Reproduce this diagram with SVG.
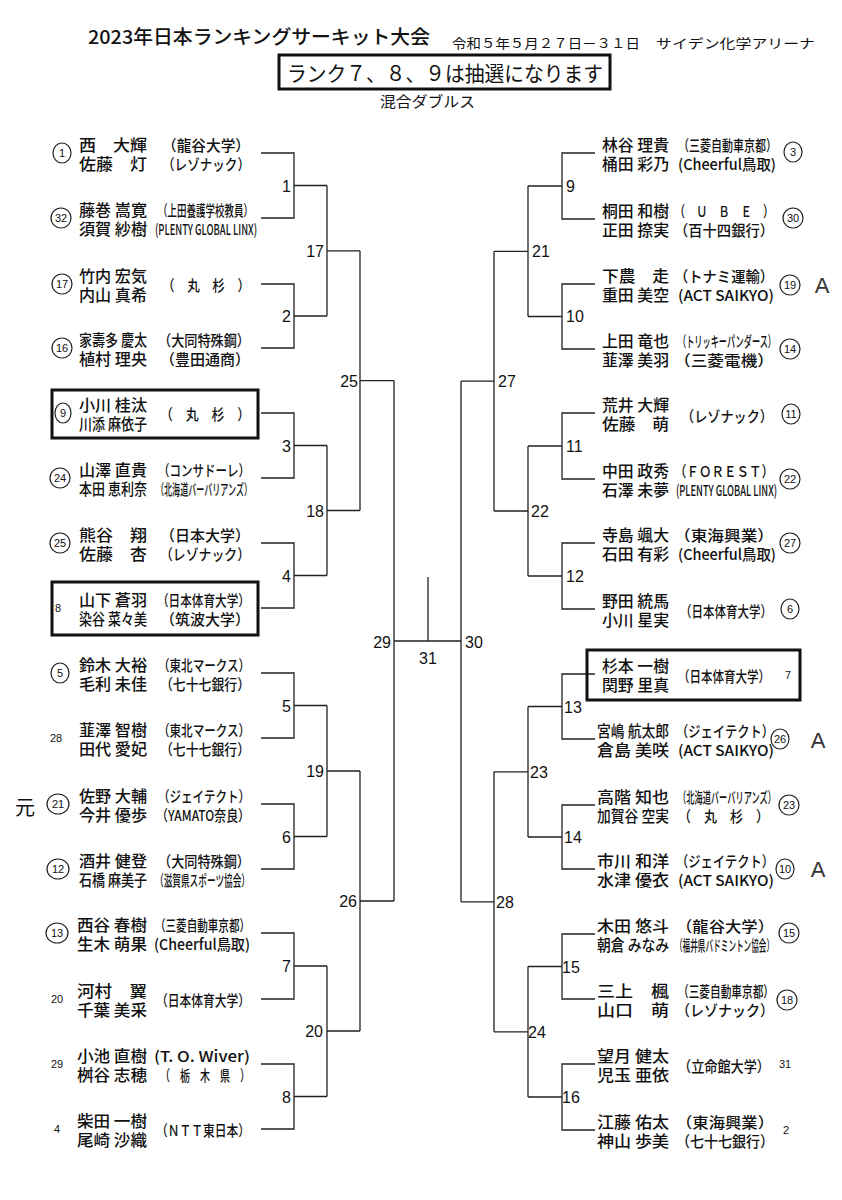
<svg xmlns="http://www.w3.org/2000/svg" width="842" height="1200" viewBox="0 0 842 1200">
<style>
text{font-family:"Noto Sans CJK JP","Noto Sans",sans-serif;fill:#111;dominant-baseline:central}
.nm{font-size:16px;font-weight:500}
.org{font-size:15px;font-weight:500}
.lbl{font-family:"Liberation Sans",Arial,sans-serif;font-size:16px}
.sd{font-family:"Liberation Sans",Arial,sans-serif;font-size:11px;text-anchor:middle}
.sc{fill:none;stroke:#222;stroke-width:1.2}
.ln{fill:none;stroke:#222;stroke-width:1.3}
.box{fill:none;stroke:#111;stroke-width:3}
.hw{font-family:"Liberation Sans",Arial,sans-serif;font-size:22px;fill:#333;text-anchor:middle}
</style>
<rect width="842" height="1200" fill="#fff"/>
<g id="header">
<text x="88" y="35" font-size="19" font-weight="500" textLength="342" lengthAdjust="spacingAndGlyphs">2023年日本ランキングサーキット大会</text>
<text x="452" y="42" font-size="13" textLength="188" lengthAdjust="spacingAndGlyphs">令和５年５月２７日－３１日</text>
<text x="656" y="42" font-size="13" textLength="159" lengthAdjust="spacingAndGlyphs">サイデン化学アリーナ</text>
<rect class="box" x="279" y="55" width="331" height="34"/>
<text x="287" y="72" font-size="21" textLength="316" lengthAdjust="spacingAndGlyphs">ランク７、８、９は抽選になります</text>
<text x="380" y="100" font-size="15" textLength="95" lengthAdjust="spacingAndGlyphs">混合ダブルス</text>
</g>
<g id="connectors">
<path class="ln" d="M261 153H294V218H261M261 284H294V348H261M261 413H294V478H261M261 543H294V608H261M261 673H294V738H261M261 804H294V869H261M261 933H294V999H261M261 1064H294V1129H261"/>
<path class="ln" d="M294 185.5H327M294 316H327M294 445.5H327M294 575.5H327M294 705.5H327M294 836.5H327M294 966H327M294 1096.5H327"/>
<path class="ln" d="M327 185.5V316M327 445.5V575.5M327 705.5V836.5M327 966V1096.5M327 250.8H360M327 510.5H360M327 771H360M327 1031H360"/>
<path class="ln" d="M360 250.8V510.5M360 771V1031M360 380.6H394M360 901H394M394 380.6V901M394 641H461M428 577V641"/>
<path class="ln" d="M595 153H562V219H595M595 284H562V349H595M595 413H562V479H595M595 543H562V609H595M595 674H562V739H595M595 805H562V869H595M595 934H562V999H595M595 1064H562V1130H595"/>
<path class="ln" d="M562 186H528M562 316.5H528M562 446H528M562 576H528M562 706.5H528M562 837H528M562 966.5H528M562 1097H528"/>
<path class="ln" d="M528 186V316.5M528 446V576M528 706.5V837M528 966.5V1097M528 251.3H494M528 511H494M528 771.8H494M528 1031.8H494"/>
<path class="ln" d="M494 251.3V511M494 771.8V1031.8M494 381.1H461M494 901.8H461M461 381.1V901.8"/>
</g>
<g id="match-labels">
<text class="lbl" x="291" y="186" text-anchor="end">1</text>
<text class="lbl" x="291" y="316" text-anchor="end">2</text>
<text class="lbl" x="291" y="446" text-anchor="end">3</text>
<text class="lbl" x="291" y="576" text-anchor="end">4</text>
<text class="lbl" x="291" y="706" text-anchor="end">5</text>
<text class="lbl" x="291" y="837" text-anchor="end">6</text>
<text class="lbl" x="291" y="966" text-anchor="end">7</text>
<text class="lbl" x="291" y="1097" text-anchor="end">8</text>
<text class="lbl" x="324" y="251" text-anchor="end">17</text>
<text class="lbl" x="324" y="511" text-anchor="end">18</text>
<text class="lbl" x="324" y="771" text-anchor="end">19</text>
<text class="lbl" x="323" y="1031" text-anchor="end">20</text>
<text class="lbl" x="358" y="381" text-anchor="end">25</text>
<text class="lbl" x="357" y="901" text-anchor="end">26</text>
<text class="lbl" x="391" y="642" text-anchor="end">29</text>
<text class="lbl" x="428" y="658" text-anchor="middle">31</text>
<text class="lbl" x="465" y="642">30</text>
<text class="lbl" x="566" y="186">9</text>
<text class="lbl" x="566" y="316">10</text>
<text class="lbl" x="566" y="446">11</text>
<text class="lbl" x="566" y="576">12</text>
<text class="lbl" x="564" y="707">13</text>
<text class="lbl" x="564" y="837">14</text>
<text class="lbl" x="562" y="967">15</text>
<text class="lbl" x="562" y="1097">16</text>
<text class="lbl" x="532" y="251">21</text>
<text class="lbl" x="531" y="511">22</text>
<text class="lbl" x="530" y="772">23</text>
<text class="lbl" x="528" y="1032">24</text>
<text class="lbl" x="498" y="381">27</text>
<text class="lbl" x="496" y="902">28</text>
</g>
<g id="L01"><ellipse class="sc" cx="62" cy="153" rx="9" ry="10"/><text class="sd" x="62" y="153">1</text>
<text class="nm" x="79" y="144" textLength="68" lengthAdjust="spacingAndGlyphs">西　大輝</text><text class="nm" x="79" y="163" textLength="68" lengthAdjust="spacingAndGlyphs">佐藤　灯</text>
<text class="org" x="162" y="144" textLength="88" lengthAdjust="spacingAndGlyphs">（龍谷大学）</text><text class="org" x="162" y="163" textLength="88" lengthAdjust="spacingAndGlyphs">（レゾナック）</text></g>
<g id="L02"><ellipse class="sc" cx="61" cy="218" rx="10" ry="10"/><text class="sd" x="61" y="218">32</text>
<text class="nm" x="79" y="209" textLength="68" lengthAdjust="spacingAndGlyphs">藤巻 嵩寛</text><text class="nm" x="79" y="228" textLength="68" lengthAdjust="spacingAndGlyphs">須賀 紗樹</text>
<text class="org" x="158" y="209" textLength="95" lengthAdjust="spacingAndGlyphs">（上田養護学校教員）</text><text class="org" x="155" y="228" textLength="102" lengthAdjust="spacingAndGlyphs">(PLENTY GLOBAL LINX)</text></g>
<g id="L03"><ellipse class="sc" cx="62" cy="284" rx="10" ry="10"/><text class="sd" x="62" y="284">17</text>
<text class="nm" x="79" y="275" textLength="68" lengthAdjust="spacingAndGlyphs">竹内 宏気</text><text class="nm" x="79" y="294" textLength="68" lengthAdjust="spacingAndGlyphs">内山 真希</text>
<text class="org" x="162" y="284" textLength="88" lengthAdjust="spacingAndGlyphs">（　丸　杉　）</text></g>
<g id="L04"><ellipse class="sc" cx="62" cy="348" rx="10" ry="10"/><text class="sd" x="62" y="348">16</text>
<text class="nm" x="79" y="339" textLength="68" lengthAdjust="spacingAndGlyphs">家壽多 慶太</text><text class="nm" x="79" y="358" textLength="68" lengthAdjust="spacingAndGlyphs">植村 理央</text>
<text class="org" x="158" y="339" textLength="92" lengthAdjust="spacingAndGlyphs">（大同特殊鋼）</text><text class="org" x="160" y="358" textLength="90" lengthAdjust="spacingAndGlyphs">（豊田通商）</text></g>
<g id="L05"><rect class="box" x="52" y="390" width="206" height="48"/><ellipse class="sc" cx="63" cy="413" rx="8" ry="10"/><text class="sd" x="63" y="413">9</text>
<text class="nm" x="79" y="404" textLength="68" lengthAdjust="spacingAndGlyphs">小川 桂汰</text><text class="nm" x="79" y="423" textLength="68" lengthAdjust="spacingAndGlyphs">川添 麻依子</text>
<text class="org" x="160" y="413" textLength="90" lengthAdjust="spacingAndGlyphs">（　丸　杉　）</text></g>
<g id="L06"><ellipse class="sc" cx="60" cy="478" rx="10" ry="10"/><text class="sd" x="60" y="478">24</text>
<text class="nm" x="79" y="469" textLength="68" lengthAdjust="spacingAndGlyphs">山澤 直貴</text><text class="nm" x="79" y="488" textLength="68" lengthAdjust="spacingAndGlyphs">本田 恵利奈</text>
<text class="org" x="158" y="469" textLength="92" lengthAdjust="spacingAndGlyphs">（コンサドーレ）</text><text class="org" x="156" y="488" textLength="96" lengthAdjust="spacingAndGlyphs">（北海道バーバリアンズ）</text></g>
<g id="L07"><ellipse class="sc" cx="60" cy="543" rx="10" ry="10"/><text class="sd" x="60" y="543">25</text>
<text class="nm" x="79" y="534" textLength="68" lengthAdjust="spacingAndGlyphs">熊谷　翔</text><text class="nm" x="79" y="553" textLength="68" lengthAdjust="spacingAndGlyphs">佐藤　杏</text>
<text class="org" x="160" y="534" textLength="90" lengthAdjust="spacingAndGlyphs">（日本大学）</text><text class="org" x="160" y="553" textLength="90" lengthAdjust="spacingAndGlyphs">（レゾナック）</text></g>
<g id="L08"><rect class="box" x="52" y="582" width="206" height="53"/><text class="sd" x="58" y="608">8</text>
<text class="nm" x="79" y="599" textLength="68" lengthAdjust="spacingAndGlyphs">山下 蒼羽</text><text class="nm" x="79" y="618" textLength="68" lengthAdjust="spacingAndGlyphs">染谷 菜々美</text>
<text class="org" x="157" y="599" textLength="93" lengthAdjust="spacingAndGlyphs">（日本体育大学）</text><text class="org" x="160" y="618" textLength="90" lengthAdjust="spacingAndGlyphs">（筑波大学）</text></g>
<g id="L09"><ellipse class="sc" cx="60" cy="673" rx="9" ry="10"/><text class="sd" x="60" y="673">5</text>
<text class="nm" x="79" y="664" textLength="68" lengthAdjust="spacingAndGlyphs">鈴木 大裕</text><text class="nm" x="79" y="683" textLength="68" lengthAdjust="spacingAndGlyphs">毛利 未佳</text>
<text class="org" x="158" y="664" textLength="92" lengthAdjust="spacingAndGlyphs">（東北マークス）</text><text class="org" x="160" y="683" textLength="90" lengthAdjust="spacingAndGlyphs">（七十七銀行）</text></g>
<g id="L10"><text class="sd" x="56" y="738">28</text>
<text class="nm" x="79" y="729" textLength="68" lengthAdjust="spacingAndGlyphs">韮澤 智樹</text><text class="nm" x="79" y="748" textLength="68" lengthAdjust="spacingAndGlyphs">田代 愛妃</text>
<text class="org" x="158" y="729" textLength="92" lengthAdjust="spacingAndGlyphs">（東北マークス）</text><text class="org" x="160" y="748" textLength="90" lengthAdjust="spacingAndGlyphs">（七十七銀行）</text></g>
<g id="L11"><text x="25" y="806" font-size="20" fill="#333" text-anchor="middle">元</text><ellipse class="sc" cx="58" cy="804" rx="11" ry="10"/><text class="sd" x="58" y="804">21</text>
<text class="nm" x="79" y="795" textLength="68" lengthAdjust="spacingAndGlyphs">佐野 大輔</text><text class="nm" x="79" y="814" textLength="68" lengthAdjust="spacingAndGlyphs">今井 優歩</text>
<text class="org" x="158" y="795" textLength="92" lengthAdjust="spacingAndGlyphs">（ジェイテクト）</text><text class="org" x="156" y="814" textLength="94" lengthAdjust="spacingAndGlyphs">（YAMATO奈良）</text></g>
<g id="L12"><ellipse class="sc" cx="58" cy="869" rx="11" ry="10"/><text class="sd" x="58" y="869">12</text>
<text class="nm" x="79" y="860" textLength="68" lengthAdjust="spacingAndGlyphs">酒井 健登</text><text class="nm" x="79" y="879" textLength="68" lengthAdjust="spacingAndGlyphs">石橋 麻美子</text>
<text class="org" x="158" y="860" textLength="92" lengthAdjust="spacingAndGlyphs">（大同特殊鋼）</text><text class="org" x="155" y="879" textLength="95" lengthAdjust="spacingAndGlyphs">（滋賀県スポーツ協会）</text></g>
<g id="L13"><ellipse class="sc" cx="57" cy="933" rx="11" ry="10"/><text class="sd" x="57" y="933">13</text>
<text class="nm" x="77" y="924" textLength="70" lengthAdjust="spacingAndGlyphs">西谷 春樹</text><text class="nm" x="77" y="943" textLength="70" lengthAdjust="spacingAndGlyphs">生木 萌果</text>
<text class="org" x="155" y="924" textLength="95" lengthAdjust="spacingAndGlyphs">（三菱自動車京都）</text><text class="org" x="154" y="943" textLength="96" lengthAdjust="spacingAndGlyphs">(Cheerful鳥取)</text></g>
<g id="L14"><text class="sd" x="57" y="999">20</text>
<text class="nm" x="77" y="990" textLength="70" lengthAdjust="spacingAndGlyphs">河村　翼</text><text class="nm" x="77" y="1009" textLength="70" lengthAdjust="spacingAndGlyphs">千葉 美采</text>
<text class="org" x="156" y="999" textLength="94" lengthAdjust="spacingAndGlyphs">（日本体育大学）</text></g>
<g id="L15"><text class="sd" x="57" y="1064">29</text>
<text class="nm" x="77" y="1055" textLength="70" lengthAdjust="spacingAndGlyphs">小池 直樹</text><text class="nm" x="77" y="1074" textLength="70" lengthAdjust="spacingAndGlyphs">桝谷 志穂</text>
<text class="org" x="154" y="1055" textLength="96" lengthAdjust="spacingAndGlyphs">(T. O. Wiver)</text><text class="org" x="160" y="1074" textLength="90" lengthAdjust="spacingAndGlyphs">（　栃　木　県　）</text></g>
<g id="L16"><text class="sd" x="57" y="1129">4</text>
<text class="nm" x="77" y="1120" textLength="70" lengthAdjust="spacingAndGlyphs">柴田 一樹</text><text class="nm" x="77" y="1139" textLength="70" lengthAdjust="spacingAndGlyphs">尾崎 沙織</text>
<text class="org" x="156" y="1129" textLength="94" lengthAdjust="spacingAndGlyphs">（ＮＴＴ東日本）</text></g>
<g id="R01"><ellipse class="sc" cx="793" cy="152" rx="9" ry="10"/><text class="sd" x="793" y="152">3</text>
<text class="nm" x="602" y="144" textLength="67" lengthAdjust="spacingAndGlyphs">林谷 理貴</text><text class="nm" x="602" y="163" textLength="67" lengthAdjust="spacingAndGlyphs">桶田 彩乃</text>
<text class="org" x="678" y="144" textLength="99" lengthAdjust="spacingAndGlyphs">（三菱自動車京都）</text><text class="org" x="678" y="163" textLength="98" lengthAdjust="spacingAndGlyphs">(Cheerful鳥取)</text></g>
<g id="R02"><ellipse class="sc" cx="793" cy="218" rx="10" ry="10"/><text class="sd" x="793" y="218">30</text>
<text class="nm" x="602" y="210" textLength="67" lengthAdjust="spacingAndGlyphs">桐田 和樹</text><text class="nm" x="602" y="229" textLength="67" lengthAdjust="spacingAndGlyphs">正田 捺実</text>
<text class="org" x="674" y="210" textLength="100" lengthAdjust="spacingAndGlyphs">（　Ｕ　Ｂ　Ｅ　）</text><text class="org" x="674" y="229" textLength="100" lengthAdjust="spacingAndGlyphs">（百十四銀行）</text></g>
<g id="R03"><ellipse class="sc" cx="790" cy="285" rx="10" ry="10"/><text class="sd" x="790" y="285">19</text><text class="hw" x="822" y="285">A</text>
<text class="nm" x="602" y="275" textLength="67" lengthAdjust="spacingAndGlyphs">下農　走</text><text class="nm" x="602" y="294" textLength="67" lengthAdjust="spacingAndGlyphs">重田 美空</text>
<text class="org" x="674" y="275" textLength="100" lengthAdjust="spacingAndGlyphs">（トナミ運輸）</text><text class="org" x="678" y="294" textLength="96" lengthAdjust="spacingAndGlyphs">(ACT SAIKYO)</text></g>
<g id="R04"><ellipse class="sc" cx="790" cy="349" rx="10" ry="10"/><text class="sd" x="790" y="349">14</text>
<text class="nm" x="602" y="340" textLength="67" lengthAdjust="spacingAndGlyphs">上田 竜也</text><text class="nm" x="602" y="359" textLength="67" lengthAdjust="spacingAndGlyphs">韮澤 美羽</text>
<text class="org" x="678" y="340" textLength="98" lengthAdjust="spacingAndGlyphs">（トリッキーパンダース）</text><text class="org" x="674" y="359" textLength="100" lengthAdjust="spacingAndGlyphs">（三菱電機）</text></g>
<g id="R05"><ellipse class="sc" cx="791" cy="414" rx="9" ry="10"/><text class="sd" x="791" y="414">11</text>
<text class="nm" x="602" y="404" textLength="67" lengthAdjust="spacingAndGlyphs">荒井 大輝</text><text class="nm" x="602" y="423" textLength="67" lengthAdjust="spacingAndGlyphs">佐藤　萌</text>
<text class="org" x="681" y="415" textLength="92" lengthAdjust="spacingAndGlyphs">（レゾナック）</text></g>
<g id="R06"><ellipse class="sc" cx="790" cy="479" rx="10" ry="10"/><text class="sd" x="790" y="479">22</text>
<text class="nm" x="602" y="470" textLength="67" lengthAdjust="spacingAndGlyphs">中田 政秀</text><text class="nm" x="602" y="489" textLength="67" lengthAdjust="spacingAndGlyphs">石澤 未夢</text>
<text class="org" x="674" y="470" textLength="100" lengthAdjust="spacingAndGlyphs">（ＦＯＲＥＳＴ）</text><text class="org" x="676" y="489" textLength="101" lengthAdjust="spacingAndGlyphs">(PLENTY GLOBAL LINX)</text></g>
<g id="R07"><ellipse class="sc" cx="790" cy="543" rx="10" ry="10"/><text class="sd" x="790" y="543">27</text>
<text class="nm" x="602" y="534" textLength="67" lengthAdjust="spacingAndGlyphs">寺島 颯大</text><text class="nm" x="602" y="553" textLength="67" lengthAdjust="spacingAndGlyphs">石田 有彩</text>
<text class="org" x="674" y="534" textLength="100" lengthAdjust="spacingAndGlyphs">（東海興業）</text><text class="org" x="678" y="553" textLength="98" lengthAdjust="spacingAndGlyphs">(Cheerful鳥取)</text></g>
<g id="R08"><ellipse class="sc" cx="790" cy="609" rx="9" ry="10"/><text class="sd" x="790" y="609">6</text>
<text class="nm" x="602" y="600" textLength="67" lengthAdjust="spacingAndGlyphs">野田 統馬</text><text class="nm" x="602" y="619" textLength="67" lengthAdjust="spacingAndGlyphs">小川 星実</text>
<text class="org" x="680" y="610" textLength="92" lengthAdjust="spacingAndGlyphs">（日本体育大学）</text></g>
<g id="R09"><rect class="box" x="587" y="650" width="213" height="50"/><text class="sd" x="788" y="675">7</text>
<text class="nm" x="602" y="665" textLength="67" lengthAdjust="spacingAndGlyphs">杉本 一樹</text><text class="nm" x="602" y="684" textLength="67" lengthAdjust="spacingAndGlyphs">関野 里真</text>
<text class="org" x="678" y="675" textLength="92" lengthAdjust="spacingAndGlyphs">（日本体育大学）</text></g>
<g id="R10"><ellipse class="sc" cx="780" cy="739" rx="9" ry="10"/><text class="sd" x="780" y="739">26</text><text class="hw" x="818" y="740">A</text>
<text class="nm" x="597" y="730" textLength="72" lengthAdjust="spacingAndGlyphs">宮嶋 航太郎</text><text class="nm" x="597" y="749" textLength="72" lengthAdjust="spacingAndGlyphs">倉島 美咲</text>
<text class="org" x="676" y="730" textLength="98" lengthAdjust="spacingAndGlyphs">（ジェイテクト）</text><text class="org" x="678" y="749" textLength="96" lengthAdjust="spacingAndGlyphs">(ACT SAIKYO)</text></g>
<g id="R11"><ellipse class="sc" cx="789" cy="805" rx="10" ry="10"/><text class="sd" x="789" y="805">23</text>
<text class="nm" x="597" y="796" textLength="72" lengthAdjust="spacingAndGlyphs">高階 知也</text><text class="nm" x="597" y="815" textLength="72" lengthAdjust="spacingAndGlyphs">加賀谷 空実</text>
<text class="org" x="678" y="796" textLength="98" lengthAdjust="spacingAndGlyphs">（北海道バーバリアンズ）</text><text class="org" x="678" y="815" textLength="91" lengthAdjust="spacingAndGlyphs">（　丸　杉　）</text></g>
<g id="R12"><ellipse class="sc" cx="785" cy="869" rx="9" ry="10"/><text class="sd" x="785" y="869">10</text><text class="hw" x="818" y="869">A</text>
<text class="nm" x="597" y="860" textLength="72" lengthAdjust="spacingAndGlyphs">市川 和洋</text><text class="nm" x="597" y="879" textLength="72" lengthAdjust="spacingAndGlyphs">水津 優衣</text>
<text class="org" x="676" y="860" textLength="98" lengthAdjust="spacingAndGlyphs">（ジェイテクト）</text><text class="org" x="678" y="879" textLength="96" lengthAdjust="spacingAndGlyphs">(ACT SAIKYO)</text></g>
<g id="R13"><ellipse class="sc" cx="789" cy="933" rx="10" ry="10"/><text class="sd" x="789" y="933">15</text>
<text class="nm" x="597" y="925" textLength="72" lengthAdjust="spacingAndGlyphs">木田 悠斗</text><text class="nm" x="597" y="944" textLength="72" lengthAdjust="spacingAndGlyphs">朝倉 みなみ</text>
<text class="org" x="676" y="925" textLength="98" lengthAdjust="spacingAndGlyphs">（龍谷大学）</text><text class="org" x="675" y="944" textLength="99" lengthAdjust="spacingAndGlyphs">（福井県バドミントン協会）</text></g>
<g id="R14"><ellipse class="sc" cx="787" cy="1000" rx="10" ry="10"/><text class="sd" x="787" y="1000">18</text>
<text class="nm" x="597" y="990" textLength="72" lengthAdjust="spacingAndGlyphs">三上　楓</text><text class="nm" x="597" y="1009" textLength="72" lengthAdjust="spacingAndGlyphs">山口　萌</text>
<text class="org" x="678" y="990" textLength="96" lengthAdjust="spacingAndGlyphs">（三菱自動車京都）</text><text class="org" x="676" y="1009" textLength="98" lengthAdjust="spacingAndGlyphs">（レゾナック）</text></g>
<g id="R15"><text class="sd" x="785" y="1064">31</text>
<text class="nm" x="597" y="1055" textLength="72" lengthAdjust="spacingAndGlyphs">望月 健太</text><text class="nm" x="597" y="1074" textLength="72" lengthAdjust="spacingAndGlyphs">児玉 亜依</text>
<text class="org" x="678" y="1065" textLength="92" lengthAdjust="spacingAndGlyphs">（立命館大学）</text></g>
<g id="R16"><text class="sd" x="786" y="1130">2</text>
<text class="nm" x="597" y="1121" textLength="72" lengthAdjust="spacingAndGlyphs">江藤 佑太</text><text class="nm" x="597" y="1140" textLength="72" lengthAdjust="spacingAndGlyphs">神山 歩美</text>
<text class="org" x="676" y="1121" textLength="98" lengthAdjust="spacingAndGlyphs">（東海興業）</text><text class="org" x="676" y="1140" textLength="98" lengthAdjust="spacingAndGlyphs">（七十七銀行）</text></g>
</svg>
